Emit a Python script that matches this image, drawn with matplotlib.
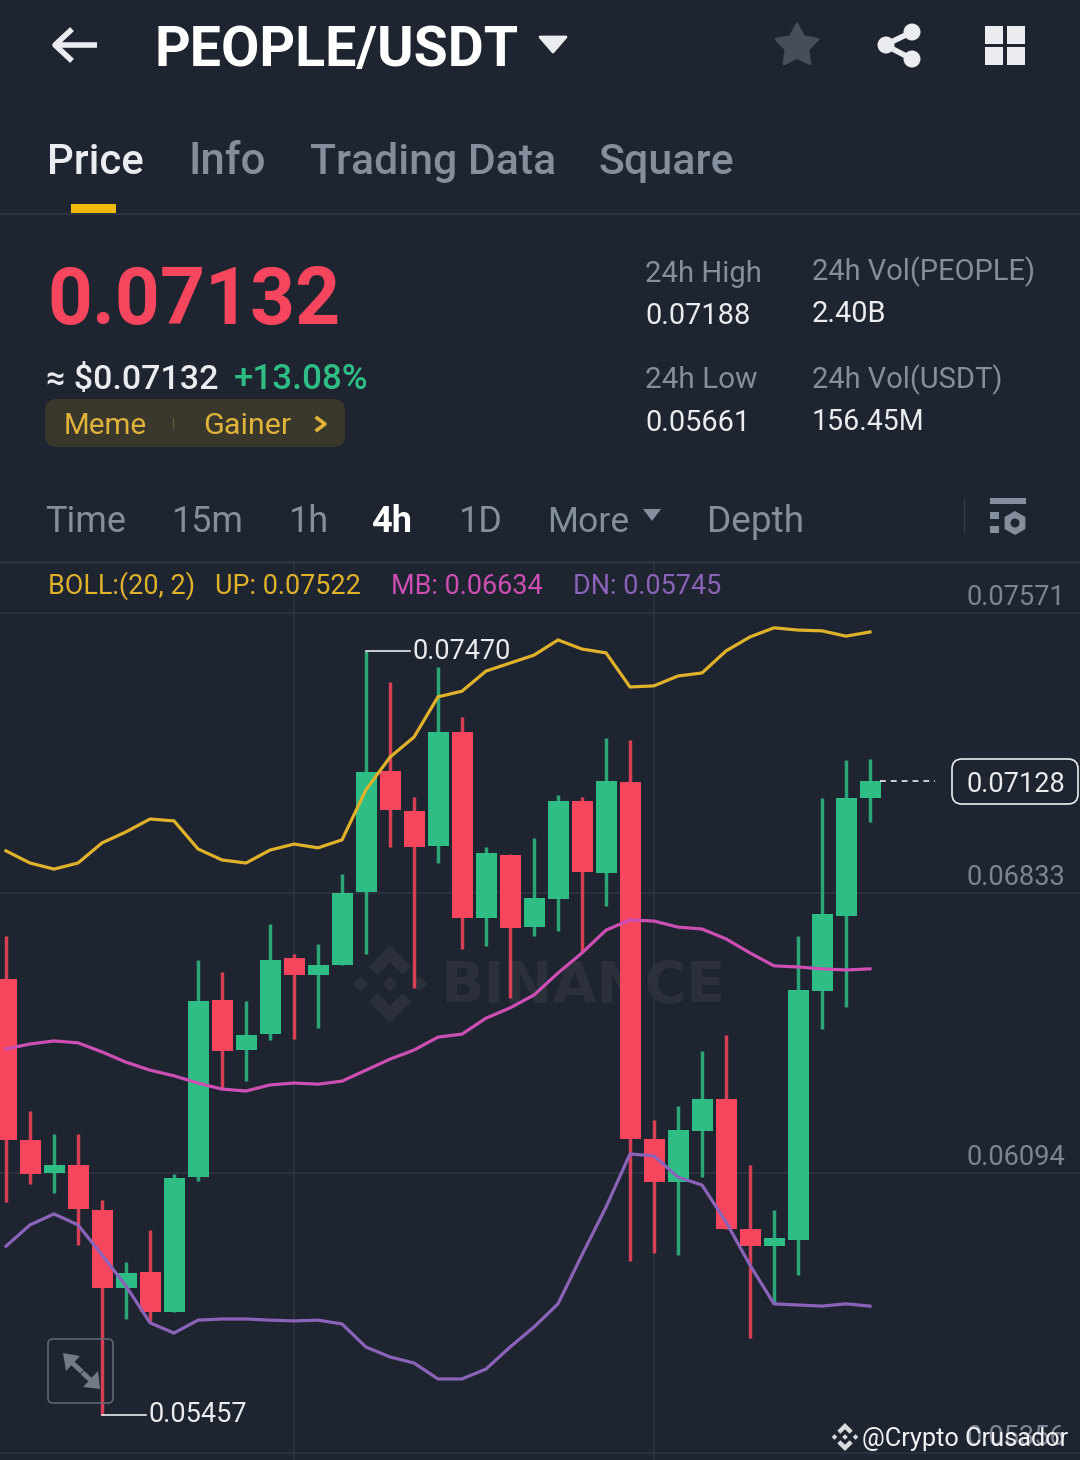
import numpy as np
import matplotlib
matplotlib.use("Agg")
import matplotlib.pyplot as plt
from matplotlib.patches import FancyBboxPatch, Polygon, Rectangle, Circle
from matplotlib.lines import Line2D

plt.rcParams['font.family'] = ['Roboto', 'DejaVu Sans']

# ---- data ----
opens  = [.06606,.06182,.06095,.06116,.05997,.05792,.05834,.05729,.06084,.06551,.06419,.06461,.06662,.06617,.06643,.06836,.07155,.07049,.06957,.07257,.06767,.06933,.06743,.06817,.07076,.06886,.07126,.06185,.06071,.06206,.06290,.05947,.05902,.05918,.06575,.06772,.07083]
highs  = [.06720,.06258,.06198,.06198,.06024,.05860,.05945,.06092,.06656,.06625,.06548,.06751,.06672,.06699,.06883,.07470,.07389,.07086,.07429,.07297,.06954,.06936,.06978,.07091,.07086,.07242,.07236,.06235,.06272,.06417,.06459,.06116,.05997,.06720,.07083,.07184,.07186]
lows   = [.06018,.06066,.06042,.05905,.05457,.05710,.05705,.05729,.06074,.06316,.06337,.06445,.06448,.06477,.06643,.06672,.06954,.06583,.06912,.06685,.06693,.06556,.06720,.06733,.06675,.06799,.05863,.05884,.05879,.06084,.05947,.05660,.05750,.05826,.06474,.06532,.07020]
closes = [.06182,.06092,.06116,.06000,.05792,.05831,.05729,.06082,.06548,.06417,.06459,.06656,.06617,.06643,.06833,.07152,.07052,.06954,.07257,.06767,.06938,.06741,.06820,.07076,.06888,.07128,.06185,.06071,.06208,.06290,.05947,.05902,.05924,.06577,.06778,.07083,.07128]
boll_up = [.06944,.06912,.06896,.06912,.06965,.06994,.07028,.07023,.06949,.06920,.06912,.06946,.06962,.06952,.06973,.07105,.07191,.07244,.07350,.07365,.07418,.07439,.07460,.07500,.07476,.07466,.07376,.07379,.07405,.07413,.07471,.07508,.07532,.07526,.07524,.07510,.07521]
boll_mb = [.06422,.06435,.06443,.06438,.06414,.06387,.06366,.06351,.06332,.06316,.06311,.06327,.06332,.06329,.06337,.06366,.06395,.06419,.06453,.06461,.06503,.06530,.06564,.06622,.06675,.06735,.06762,.06759,.06743,.06738,.06712,.06675,.06641,.06638,.06633,.06630,.06633]
boll_dn = [.05902,.05958,.05987,.05958,.05879,.05797,.05700,.05673,.05707,.05710,.05710,.05707,.05705,.05707,.05697,.05636,.05610,.05594,.05552,.05552,.05578,.05636,.05689,.05750,.05879,.06005,.06145,.06140,.06084,.06063,.05966,.05852,.05750,.05747,.05744,.05750,.05744]
price_ticks = [.07571,.06833,.06094,.05356]
price_labels = ['0.07571','0.06833','0.06094','0.05356']
vgrid_idx = [12,27]
chart_high, chart_low, last_price = .07470,.05457,.07128

BG='#1E2530'; GRID='#2E343F'; GREEN='#2EBD85'; RED='#F6465D'
UPC='#E0B22C'; MBC='#CE4FB4'; DNC='#8B63B8'; GRAY='#848E9C'; WHITE='#EAECEF'

fig = plt.figure(figsize=(10.8,14.6),dpi=100,facecolor=BG)

# ---- price chart ----
ax = fig.add_axes([0,0,1,(1460-562)/1460])
ax.set_facecolor('none')
ax.set_xlim(-0.25,44.75)
ax.set_ylim(0.091869-1460*2.636e-5, 0.091869-562*2.636e-5)
for s in ax.spines.values(): s.set_visible(False)
ax.set_xticks([]); ax.set_yticks([])
for p,l in zip(price_ticks,price_labels):
    ax.axhline(p,color=GRID,lw=1.2,zorder=1)
    ax.annotate(l,xy=(1065,p),xycoords=('figure pixels','data'),xytext=(0,11.5),textcoords='offset points',
                ha='right',va='center',fontsize=19.6,color='#7D8592',zorder=1)
for i in vgrid_idx:
    ax.axvline(i,color=GRID,lw=1.2,zorder=1)

idx=np.arange(len(opens))
o,h,l,c=map(np.array,(opens,highs,lows,closes))
up=c>=o
cols=np.where(up,GREEN,RED)
ax.vlines(idx,l,h,colors=cols,lw=2.5,alpha=.85,zorder=3)
ax.bar(idx,np.abs(c-o),bottom=np.minimum(o,c),width=0.875,color=cols,linewidth=0,zorder=4)
ax.plot(idx,boll_up,color=UPC,lw=2.3,zorder=5,solid_joinstyle='round')
ax.plot(idx,boll_mb,color=MBC,lw=2.3,zorder=5,solid_joinstyle='round')
ax.plot(idx,boll_dn,color=DNC,lw=2.3,zorder=5,solid_joinstyle='round')
# high / low markers
ax.plot([15,16.85],[chart_high,chart_high],color=WHITE,lw=1.2,zorder=5)
ax.text(16.92,chart_high,f'{chart_high:.5f}',color=WHITE,fontsize=19.5,va='center',ha='left',zorder=6)
ax.plot([4,5.85],[chart_low,chart_low],color=WHITE,lw=1.2,zorder=5)
ax.text(5.92,chart_low,f'{chart_low:.5f}',color=WHITE,fontsize=19.5,va='center',ha='left',zorder=6)
ax.plot([36.4,38.7],[last_price,last_price],color=WHITE,lw=1.2,ls=(0,(3.5,3)),zorder=5)

# ---- interface layer in pixel coordinates ----
ui = fig.add_axes([0,0,1,1])
ui.set_xlim(0,1080); ui.set_ylim(1460,0); ui.axis('off'); ui.patch.set_alpha(0)

def T(x,y,s,px,color=WHITE,weight='normal',ha='left',z=10,**k):
    ui.text(x,y,s,fontsize=px*0.72,color=color,fontweight=weight,ha=ha,va='baseline',zorder=z,**k)

def logo(target,cx,cy,r,color,z):
    target.add_patch(Polygon([(cx,cy-.2*r),(cx+.2*r,cy),(cx,cy+.2*r),(cx-.2*r,cy)],fc=color,ec='none',zorder=z))
    for dx in (-.75,.75):
        target.add_patch(Polygon([(cx+dx*r,cy-.2*r),(cx+dx*r+.2*r,cy),(cx+dx*r,cy+.2*r),(cx+dx*r-.2*r,cy)],fc=color,ec='none',zorder=z))
    for sgn in (-1,1):
        pts=[(0,1),(.55,.45),(.33,.23),(0,.55),(-.33,.23),(-.55,.45)]
        target.add_patch(Polygon([(cx+a*r,cy-sgn*b*r) for a,b in pts],fc=color,ec='none',zorder=z))

# watermark
wm = fig.add_axes([0,0,1,1],zorder=-1); wm.set_xlim(0,1080); wm.set_ylim(1460,0); wm.axis('off'); wm.patch.set_alpha(0)
wm.text(441,1003,'BINANCE',fontsize=41,fontweight='bold',family='DejaVu Sans',color='#2B303B',ha='left',va='baseline')
logo(wm,390,984,39,'#2B303B',1)
ax.set_zorder(1); ui.set_zorder(2)

# header
ui.add_line(Line2D([57,97],[45,45],color=WHITE,lw=4,solid_capstyle='butt',zorder=10))
ui.add_line(Line2D([70,55,70],[31,45,59],color=WHITE,lw=4,zorder=10))
T(155,66,'PEOPLE/USDT',55.5,color='white',weight='bold')
ui.add_patch(Polygon([(540,37),(566,37),(553,52)],fc=WHITE,ec=WHITE,lw=2,joinstyle='round',zorder=10))
sx,sy=797,46
ang=np.deg2rad(np.arange(10)*36-90)
rad=np.where(np.arange(10)%2==0,22,11.5)
ui.add_patch(Polygon(np.c_[sx+rad*np.cos(ang),sy+rad*np.sin(ang)],fc='#474D5A',ec='#474D5A',lw=2,joinstyle='round',zorder=10))
ui.add_line(Line2D([912,885,912],[32,45,59],color=WHITE,lw=4,zorder=10))
for (a,b,r) in [(912,32,8.5),(886,45,8.5),(912,59,8.5)]:
    ui.add_patch(Circle((a,b),r,fc=WHITE,ec='none',zorder=10))
for (a,b,w,hh) in [(985,26,18,18),(1007,26,18,18),(985,47,18,18),(1007,47,18,18)]:
    ui.add_patch(Rectangle((a,b),w,hh,fc=WHITE,ec='none',zorder=10))

# tabs
T(47,174,'Price',42,weight='medium')
T(188,174,'Info',44,color=GRAY,weight='medium')
T(310,174,'Trading Data',42.7,color=GRAY,weight='medium')
T(598,174,'Square',43,color=GRAY,weight='medium')
ui.add_patch(Rectangle((71,204),45,9,fc='#F0B90B',ec='none',zorder=10))
ui.add_patch(Rectangle((0,213),1080,2,fc='#2E343F',ec='none',zorder=9))

# price block
T(47,324,'0.07132',78.5,color=RED,weight='bold')
T(46,389,'≈ $0.07132',34,weight='medium')
T(234,389,'+13.08%',35,color=GREEN,weight='medium')
ui.add_patch(FancyBboxPatch((55,409),280,28,boxstyle='round,pad=10,rounding_size=12',fc='#3A382D',ec='none',zorder=9))
T(64,434,'Meme',29.5,color='#E2B33A')
ui.add_patch(Rectangle((172.5,418),1.5,11,fc='#6B6235',ec='none',zorder=10))
T(203,434,'Gainer',30.5,color='#E2B33A')
ui.add_line(Line2D([317,325,317],[418,424,430],color='#E2B33A',lw=2.6,zorder=10))
T(645,282,'24h High',29.3,color=GRAY)
T(645,324,'0.07188',29)
T(812,280,'24h Vol(PEOPLE)',29,color=GRAY)
T(812,322,'2.40B',29)
T(645,388,'24h Low',29.8,color=GRAY)
T(645,431,'0.05661',29)
T(812,388,'24h Vol(USDT)',29,color=GRAY)
T(812,430,'156.45M',28.5)

# intervals
for x,s,sz in [(45,'Time',36),(172,'15m',36),(289,'1h',36),(459,'1D',36),(547,'More',35.5),(707,'Depth',37)]:
    T(x,532,s,sz,color=GRAY)
T(372,532,'4h',36,color='white',weight='bold')
ui.add_patch(Polygon([(643,509),(661,509),(652,521)],fc=GRAY,ec='none',zorder=10))
ui.add_patch(Rectangle((963.5,498),1.5,36,fc='#3A404B',ec='none',zorder=10))
ui.add_patch(Rectangle((990,498),36,6,fc=GRAY,ec='none',zorder=10))
ui.add_patch(Rectangle((990,512),9,7,fc=GRAY,ec='none',zorder=10))
ui.add_patch(Rectangle((990,526),9,7,fc=GRAY,ec='none',zorder=10))
hx=np.deg2rad(np.arange(6)*60+30)
ui.add_patch(Polygon(np.c_[1015+12*np.cos(hx),523+12*np.sin(hx)],fc=GRAY,ec='none',zorder=10))
ui.add_patch(Circle((1015,523),4.5,fc=BG,ec='none',zorder=10))
ui.add_patch(Rectangle((0,561),1080,3,fc='#2E343F',ec='none',zorder=9))

# BOLL legend
T(48,594,'BOLL:(20, 2)',27,color=UPC)
T(215,594,'UP: 0.07522',27,color=UPC)
T(391,594,'MB: 0.06634',27,color=MBC)
T(573,594,'DN: 0.05745',27,color=DNC)

# last price box
ui.add_patch(FancyBboxPatch((962,769),106,25,boxstyle='round,pad=10,rounding_size=10',fc=BG,ec=WHITE,lw=1.2,zorder=9))
T(1015.5,792,'0.07128',27.3,ha='center')

# expand button
ui.add_patch(FancyBboxPatch((53,1344),55,54,boxstyle='round,pad=5,rounding_size=5',fc='none',ec='#5E6673',lw=1.2,zorder=9))
ui.add_patch(Polygon([(63,1353),(80,1356),(66,1371)],fc='#737B87',ec='none',zorder=10))
ui.add_patch(Polygon([(100,1389),(83,1387),(98,1371)],fc='#737B87',ec='none',zorder=10))
ui.add_line(Line2D([68,80],[1359,1370],color='#737B87',lw=3.5,zorder=10))
ui.add_line(Line2D([84,95],[1374,1384],color='#737B87',lw=3.5,zorder=10))

# footer watermark
logo(ui,845,1437,14,'#D9DBDF',11)
T(862,1446,'@Crypto Crusador',25.4,color='#F0F1F3',z=11)

fig.savefig('out.png',dpi=100,facecolor=BG)
